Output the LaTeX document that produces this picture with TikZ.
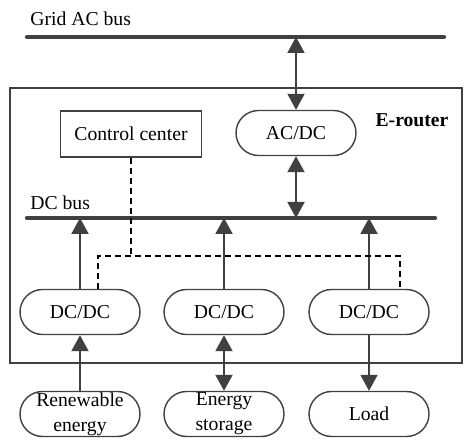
\documentclass[tikz,border=0pt]{standalone}
\usepackage{fontspec}
\setmainfont{Liberation Serif}
\usetikzlibrary{arrows.meta,positioning}
\definecolor{cline}{RGB}{64,64,64}

\begin{document}
\begin{tikzpicture}[
  >={Triangle[length=3.2mm,width=3.4mm]},
  font=\fontsize{11.2}{14.2}\selectfont,
  conv/.style={draw=cline,line width=0.8pt,rounded corners=0.45cm,minimum width=2.4cm,minimum height=0.9cm,align=center,inner sep=0pt},
  bus/.style={cline,line width=2.4pt,line cap=round},
  flow/.style={cline,line width=1.1pt},
  ctrl/.style={black,line width=1.1pt,dash pattern=on 0.12cm off 0.08cm},
]
\useasboundingbox (0,0) rectangle (9.48,8.9);

% ============================ buses ============================
\coordinate (gbL) at (0.54,8.16);
\coordinate (gbR) at (8.88,8.16);
\coordinate (dbL) at (0.54,4.54);
\coordinate (dbR) at (8.70,4.54);
\draw[bus] (gbL) -- (gbR);
\draw[bus] (dbL) -- (dbR);
\node[anchor=west,inner sep=0pt] (gridlbl) at (0.6,8.52) {Grid AC bus};
\node[anchor=west,inner sep=0pt] (dclbl) at (0.6,4.84) {DC bus};

% ============================ E-router frame ============================
\draw[cline,line width=0.8pt] (0.2,1.64) rectangle (9.24,7.14);
\node[font=\fontsize{11.2}{14.2}\selectfont\bfseries] (erouter) at (8.24,6.5) {E-router};

% ============================ converters ============================
\node[draw=cline,line width=0.8pt,minimum width=2.82cm,minimum height=0.92cm] (cc) at (2.62,6.22) {Control center};
\node[conv] (acdc) at (5.92,6.24) {AC/DC};

\node[conv] (dcdcA) at (1.60,2.66) {DC/DC};
\node[conv] (dcdcB) at (4.48,2.66) {DC/DC};
\node[conv] (dcdcC) at (7.38,2.66) {DC/DC};

% ============================ sources and loads ============================
\node[conv] (renew) at (1.60,0.62) {Renewable\\energy};
\node[conv] (store) at (4.48,0.62) {Energy\\storage};
\node[conv] (load)  at (7.38,0.62) {Load};

% ============================ power flows ============================
\draw[flow,<->] (acdc.north) -- (acdc.north |- gbL);
\draw[flow,<->] (acdc.south) -- (acdc.south |- dbL);
\draw[flow,->] (dcdcA.north) -- (dcdcA.north |- dbL);
\draw[flow,->] (dcdcB.north) -- (dcdcB.north |- dbL);
\draw[flow,->] (dcdcC.north) -- (dcdcC.north |- dbL);
\draw[flow,->] (renew) -- (dcdcA);
\draw[flow,<->] (store) -- (dcdcB);
\draw[flow,->] (dcdcC) -- (load);

% ============================ control signals ============================
\coordinate (ctlA) at (1.96,3.78);
\coordinate (ctlC) at (8.00,3.78);
\draw[ctrl] (cc.south) -- (cc.south |- ctlA);
\draw[ctrl] (dcdcA.north -| ctlA) -- (ctlA) -- (ctlC) -- (ctlC |- dcdcC.north);

\end{tikzpicture}
\end{document}
